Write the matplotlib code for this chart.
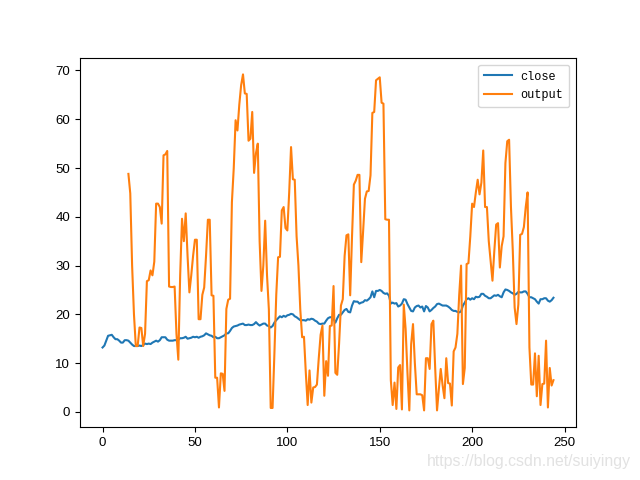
import matplotlib
matplotlib.use('Agg')
import matplotlib.pyplot as plt

close = [13.2, 13.6, 14.6, 15.6, 15.7, 15.8, 15.3, 14.9, 14.9, 14.6, 14.2, 14.2, 14.7, 14.7, 14.6,
         14.2, 13.8, 13.5, 13.5, 13.5, 13.6, 13.5, 13.7, 14.0, 13.9, 14.0, 13.9, 14.2, 14.4, 14.6,
         14.4, 14.7, 15.3, 15.3, 15.3, 14.8, 14.6, 14.6, 14.6, 14.7, 14.7, 14.8, 15.1, 15.1, 15.2,
         15.4, 15.0, 15.1, 15.2, 15.4, 15.3, 15.4, 15.2, 15.4, 15.5, 15.7, 16.1, 15.9, 15.7, 15.6,
         15.3, 15.4, 15.1, 15.1, 15.3, 15.5, 15.7, 16.1, 16.1, 16.6, 17.2, 17.5, 17.6, 17.7, 17.9,
         18.0, 18.1, 17.8, 17.8, 17.9, 17.8, 17.8, 18.0, 18.4, 18.0, 17.7, 17.9, 18.1, 18.1, 17.7,
         17.6, 17.3, 17.6, 18.3, 18.8, 19.2, 19.6, 19.4, 19.7, 19.5, 19.8, 19.9, 20.1, 20.0, 19.6,
         19.4, 19.1, 18.8, 18.8, 18.8, 18.7, 19.0, 18.9, 19.1, 19.0, 18.7, 18.5, 18.1, 18.0, 18.1,
         18.1, 18.7, 19.2, 19.4, 19.4, 19.1, 18.3, 19.2, 19.9, 19.9, 20.4, 20.9, 21.1, 20.5, 20.4,
         21.8, 22.7, 22.6, 22.6, 22.2, 22.4, 22.5, 22.9, 22.8, 23.1, 23.5, 24.7, 23.5, 24.8, 24.8,
         25.0, 24.8, 24.4, 24.2, 24.3, 23.8, 22.2, 22.4, 22.2, 22.3, 21.6, 21.8, 22.2, 23.1, 23.0,
         22.1, 21.4, 20.7, 20.6, 21.4, 21.7, 21.8, 21.4, 21.6, 20.6, 21.7, 21.4, 20.6, 20.9, 21.3,
         21.6, 22.1, 22.2, 22.0, 21.8, 21.8, 21.8, 21.6, 21.3, 20.9, 20.7, 20.7, 20.5, 20.4, 20.6,
         21.8, 22.4, 23.1, 23.3, 23.0, 23.3, 23.1, 23.6, 23.5, 23.6, 24.2, 24.2, 23.8, 23.6, 23.3,
         23.3, 23.6, 23.9, 23.8, 24.0, 23.7, 23.5, 24.5, 25.1, 25.0, 24.8, 24.5, 24.3, 24.0, 24.2,
         24.6, 24.5, 24.5, 24.7, 24.7, 24.2, 23.5, 23.5, 23.3, 23.1, 22.6, 22.2, 23.1, 23.1, 23.3,
         23.3, 22.8, 22.6, 22.9, 23.4]

# output only starts once the rolling window is full
output_start = 14
output = [48.8, 44.8, 30, 20, 13.5, 13.5, 17.3, 17.2, 13.5, 16,
          26.8, 27, 29, 28, 30.8, 42.7, 42.7, 42, 38.6, 52.6,
          52.8, 53.5, 25.7, 25.6, 25.6, 25.7, 16, 10.7, 28, 39.6,
          35, 40.7, 32, 24.5, 28, 32, 35.3, 35.3, 19, 19,
          24, 25.5, 32, 39.4, 39.4, 23.9, 23.8, 7, 7, 0.9,
          7.9, 7.8, 4.3, 21.1, 23, 23.2, 43, 50, 59.8, 57.7,
          63, 67, 69.2, 65.3, 65.2, 55.6, 56, 61.5, 49, 53,
          55, 35, 24.8, 30, 39.2, 28, 21, 0.8, 0.8, 12,
          24, 31.7, 31.8, 41.3, 42, 37.7, 37.2, 45, 54.3, 47.7,
          47.6, 36, 30, 21, 15.3, 15.4, 8, 1.4, 8.5, 1.9,
          5, 5.1, 5.6, 11, 15.8, 17.7, 3.3, 10.4, 7.4, 17.6,
          17.7, 25.8, 8, 7.6, 14, 21.8, 23.1, 32, 36.2, 36.4,
          23.9, 36, 46.6, 47.4, 48.6, 48.6, 30.7, 37, 43.7, 45.2,
          45.3, 48.5, 61.3, 61.5, 68, 68.3, 68.6, 63.4, 63.2, 39.5,
          39.4, 39.4, 6.5, 1.4, 6, 0.6, 9.1, 9.6, 0.5, 22,
          17, 8, 0.3, 13.9, 18, 10, 3.6, 3.6, 3.6, 3.4,
          0.3, 11, 11, 8.8, 18, 18.7, 9, 0.3, 4.7, 8.8,
          5.5, 2.8, 11, 5.9, 5.8, 1.3, 12.4, 13.2, 16, 24,
          30, 5.7, 9, 30.3, 30.5, 36, 42.7, 42, 45, 47.6,
          44.6, 47, 53.6, 42, 42, 35, 31, 26.9, 33, 38.4,
          38.7, 29.6, 34, 36, 51, 55.5, 55.8, 42, 33, 21.4,
          18, 22, 36.3, 36.5, 37.9, 42, 45, 13.2, 5.6, 5.6,
          12, 3.2, 11.5, 1.4, 5.7, 5.8, 14.6, 0.9, 9, 5.4,
          6.5]

plt.rcParams['font.family'] = ['Liberation Sans', 'DejaVu Sans']

fig, ax = plt.subplots(figsize=(6.4, 4.8), dpi=100)
ax.plot(range(len(close)), close, label='close')
ax.plot(range(output_start, output_start + len(output)), output, label='output')
ax.tick_params(labelsize=9.5)
ax.legend(prop={'family': 'Liberation Mono', 'size': 8.6}, handlelength=2.33,
          handletextpad=0.7, borderpad=0.5, labelspacing=0.55, borderaxespad=0.58)

fig.text(0.986, 0.038, 'https://blog.csdn.net/suiyingy', ha='right', va='center',
         fontsize=11.4, color='#e2e2e2')

plt.savefig('out.png', dpi=100)
